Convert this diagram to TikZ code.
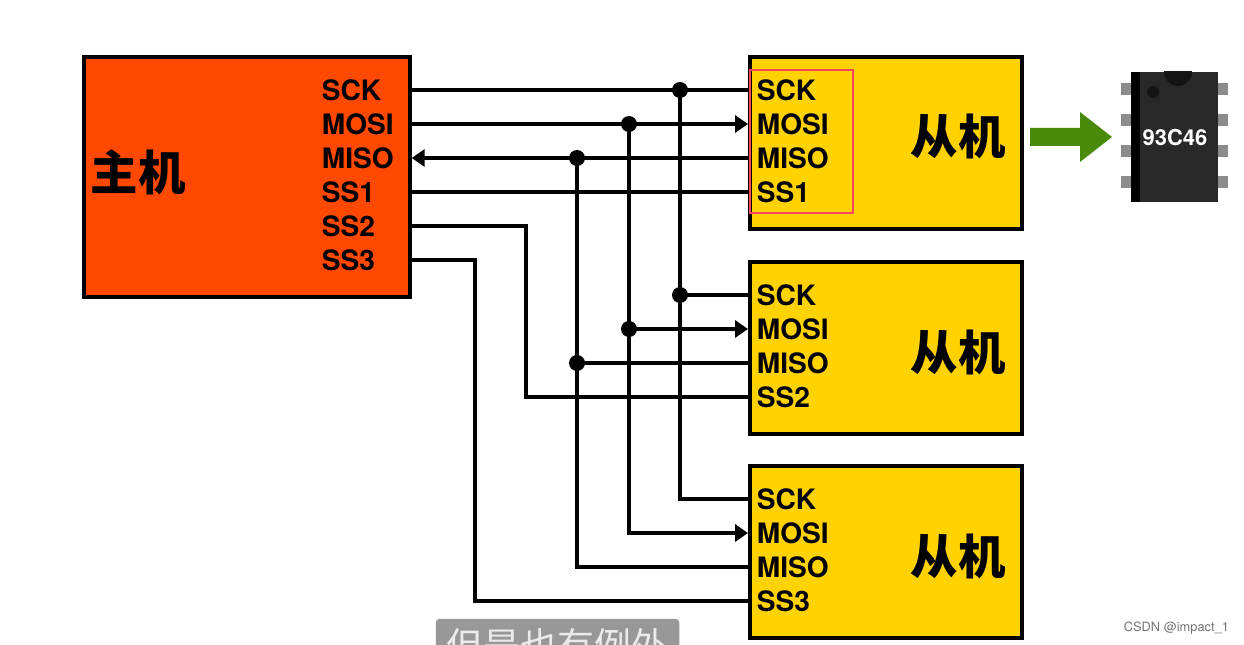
\documentclass[tikz,border=0pt]{standalone}
\usepackage{fontspec}
\setmainfont{TeX Gyre Heros}
\newfontfamily\cjk{Noto Sans CJK SC}
\usetikzlibrary{arrows.meta}
\definecolor{hostred}{RGB}{255,72,0}
\definecolor{slaveyellow}{RGB}{255,210,0}
\definecolor{arrowgreen}{RGB}{74,138,10}
\definecolor{chipbody}{RGB}{40,40,40}
\definecolor{chippin}{RGB}{140,140,140}
\definecolor{capgrey}{RGB}{152,152,152}
\definecolor{markred}{RGB}{255,70,90}

\begin{document}
\begin{tikzpicture}[x=0.02cm,y=-0.02cm,line width=0.075cm,
    host/.style={draw,fill=hostred,anchor=north west,minimum width=6.52cm,minimum height=4.8cm,inner sep=0},
    slave/.style={draw,fill=slaveyellow,anchor=north west,minimum width=5.44cm,minimum height=3.44cm,inner sep=0},
    pinname/.style={anchor=west,inner sep=0,font=\fontsize{16}{16}\selectfont\bfseries},
    boxname/.style={font=\cjk\bfseries\fontsize{27}{27}\selectfont},
    dot/.style={fill,circle,inner sep=0,minimum size=0.32cm},
    >={Triangle[length=0.26cm,width=0.34cm]}]

\useasboundingbox (0,0) rectangle (1244,645);

\node[host] (master) at (82,55) {};
\node[boxname] (mname) at (138,172) {主机};
\foreach \p/\y in {SCK/90,MOSI/124,MISO/158,SS1/192,SS2/226,SS3/260}
    \node[pinname] (m\p) at (320,\y) {\p};

\foreach \s/\t/\ss/\ly in {A/55/SS1/136,B/260/SS2/352,C/464/SS3/556}{
    \node[slave] (s\s) at (748,\t) {};
    \node[boxname] (n\s) at (958,\ly) {从机};
    \foreach \p/\k in {SCK/0,MOSI/1,MISO/2}
        \node[pinname] (\s-\p) at (755,\t+35+34*\k) {\p};
    \node[pinname] (\s-ss) at (755,\t+137) {\ss};
}

\coordinate (busSCK) at (680,0);
\coordinate (busMOSI) at (629,0);
\coordinate (busMISO) at (577,0);
\coordinate (busSS2) at (526,0);
\coordinate (busSS3) at (475,0);

% shared lines
\draw (master.east |- mSCK) -- (sA.west |- A-SCK);
\draw (busSCK |- A-SCK) |- (sC.west |- C-SCK);
\draw (busSCK |- B-SCK) -- (sB.west |- B-SCK);
\draw[->] (master.east |- mMOSI) -- (sA.west |- A-MOSI);
\draw[->] (busMOSI |- A-MOSI) |- (sC.west |- C-MOSI);
\draw[->] (busMOSI |- B-MOSI) -- (sB.west |- B-MOSI);
\draw[<-] (master.east |- mMISO) -- (sA.west |- A-MISO);
\draw (busMISO |- A-MISO) |- (sC.west |- C-MISO);
\draw (busMISO |- B-MISO) -- (sB.west |- B-MISO);
\foreach \s in {A,B}
    \foreach \p in {SCK,MOSI,MISO}
        \node[dot] (d\s-\p) at (bus\p |- \s-\p) {};

% select lines
\draw (master.east |- mSS1) -- (sA.west |- A-ss);
\draw (master.east |- mSS2) -| (busSS2 |- B-ss) -- (sB.west |- B-ss);
\draw (master.east |- mSS3) -| (busSS3 |- C-ss) -- (sC.west |- C-ss);

\draw[markred,line width=0.6pt] (750,70) rectangle (853,213);

\fill[arrowgreen] (1030,128) -- (1080,128) -- (1080,112) -- (1112,137) -- (1080,162) -- (1080,146) -- (1030,146) -- cycle;

% chip
\foreach \y in {89,120,151,182}{
    \fill[chippin] (1121,\y-6) rectangle (1131,\y+6);
    \fill[chippin] (1218,\y-6) rectangle (1228,\y+6);
}
\fill[chipbody] (1131,72) rectangle (1218,202);
\fill[black] (1131,72) rectangle (1140,202);
\begin{scope}
    \clip (1131,72) rectangle (1218,202);
    \fill[black!92] (1178,72) circle (0.28cm);
\end{scope}
\fill[black!92] (1153,92) circle (0.12cm);
\node[text=white,font=\fontsize{12.5}{12.5}\selectfont\bfseries] (chipname) at (1175,137) {93C46};

\node[fill=capgrey,anchor=north west,inner xsep=0.22cm,inner ysep=0.2cm,rounded corners=2pt,
    text=white!92!black,font=\cjk\fontsize{21}{21}\selectfont] (caption) at (434,617) {但是也有例外};
\node[anchor=west,inner sep=0,text=black!55,font=\fontsize{7.3}{8}\selectfont] (credit) at (1122,628) {CSDN @impact\_1};
\end{tikzpicture}
\end{document}
